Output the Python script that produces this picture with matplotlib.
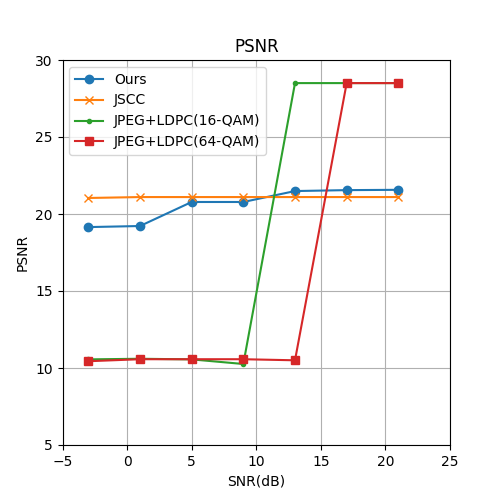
import matplotlib
matplotlib.use("Agg")
import matplotlib.pyplot as plt

snr = [-3, 1, 5, 9, 13, 17, 21]
ours = [19.15, 19.22, 20.78, 20.78, 21.49, 21.55, 21.57]
jscc = [21.04, 21.1, 21.1, 21.1, 21.1, 21.1, 21.1]
jpeg16 = [10.56, 10.6, 10.56, 10.26, 28.5, 28.5, 28.5]
jpeg64 = [10.44, 10.57, 10.57, 10.57, 10.5, 28.5, 28.5]

fig, ax = plt.subplots(figsize=(5, 5), dpi=100)
ax.plot(snr, ours, marker='o', label='Ours')
ax.plot(snr, jscc, marker='x', label='JSCC')
ax.plot(snr, jpeg16, marker='.', label='JPEG+LDPC(16-QAM)')
ax.plot(snr, jpeg64, marker='s', label='JPEG+LDPC(64-QAM)')
ax.set_xlim(-5, 25)
ax.set_ylim(5, 30)
ax.set_title('PSNR')
ax.set_xlabel('SNR(dB)')
ax.set_ylabel('PSNR')
ax.grid(True)
ax.legend(loc='upper left')
fig.savefig('out.png')
